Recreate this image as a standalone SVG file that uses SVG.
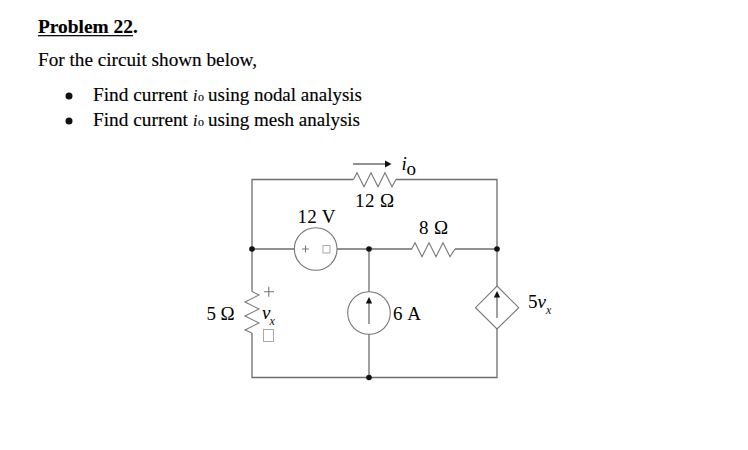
<svg xmlns="http://www.w3.org/2000/svg" width="748" height="450" viewBox="0 0 748 450">
<style>
.w{fill:none;stroke:#6e6e6e;stroke-width:1.3}
.t{fill:none;stroke:#777;stroke-width:1.1}
.h{font-family:"Liberation Serif",serif;font-size:19px;fill:#000;stroke:#000;stroke-width:.15}
.c{font-family:"Liberation Serif",serif;font-size:19px;fill:#000}
.i{font-style:italic}
.d{fill:#111}
.a{fill:#111;stroke:none}
</style>
<rect width="748" height="450" fill="#fff"/>
<g id="heading">
<text class="h" x="38" y="32.500" font-weight="bold" textLength="95" lengthAdjust="spacingAndGlyphs">Problem 22</text>
<text class="h" x="133" y="32.500" font-weight="bold">.</text>
<rect x="38" y="35" width="95" height="1.300" fill="#111"/>
<text class="h" x="38" y="66" textLength="219" lengthAdjust="spacingAndGlyphs">For the circuit shown below,</text>
<circle class="d" cx="69" cy="96" r="3.500"/>
<circle class="d" cx="69" cy="121" r="3.500"/>
<text class="h" y="101"><tspan x="93" textLength="95" lengthAdjust="spacingAndGlyphs">Find current</tspan><tspan x="193" class="i" font-size="16">i</tspan><tspan x="198" font-size="12">o</tspan><tspan x="208" textLength="154" lengthAdjust="spacingAndGlyphs">using nodal analysis</tspan></text>
<text class="h" y="126"><tspan x="93" textLength="95" lengthAdjust="spacingAndGlyphs">Find current</tspan><tspan x="193" class="i" font-size="16">i</tspan><tspan x="198" font-size="12">o</tspan><tspan x="208" textLength="152" lengthAdjust="spacingAndGlyphs">using mesh analysis</tspan></text>
</g>
<g id="connectors">
<path class="w" d="M353.500 179.500H252V291.500M252 333V377.500H497V329M396 179.500H497V286M252 249H294.500M337 249H412M455 249H497M369 249V292M369 334V377.500"/>
</g>
<g id="resistor-12">
<path class="t" d="M353.500 179.500L357 172.700L364 186.700L371 172.700L378 186.700L385 172.700L392 186.700L396 179.500"/>
<text class="c" x="355" y="206.500" textLength="39">12 Ω</text>
</g>
<g id="current-label">
<path class="w" d="M353 164H386"/>
<path class="a" d="M391.500 164L385 160.500V167.500Z"/>
<text class="c i" x="401.500" y="170">i</text>
<text class="c" x="406.500" y="175" font-size="10.500">o</text>
</g>
<g id="voltage-source">
<circle class="t" cx="315.700" cy="249" r="21.300"/>
<path class="t" d="M302 249H309M305.500 245.500V252.500"/>
<rect x="323" y="245.500" width="7" height="7.500" fill="none" stroke="#aaa" stroke-width="1"/>
<text class="c" x="297.500" y="223" textLength="38">12 V</text>
</g>
<g id="resistor-8">
<path class="t" d="M411.700 249L415 242.700L422 256.700L429 242.700L436 256.700L443 242.700L450 256.700L455 249"/>
<text class="c" x="419" y="234" textLength="29">8 Ω</text>
</g>
<g id="resistor-5">
<path class="t" d="M252 291.500L259 295L245 302L259 309L245 316L259 323L245 330L252 333"/>
<text class="c" x="206.500" y="320" textLength="28">5 Ω</text>
<path class="t" d="M264 291.700H274M268.800 286.700V296.700"/>
<rect x="263.500" y="329.500" width="10" height="12" fill="none" stroke="#aaa" stroke-width="1"/>
<text class="c i" x="262" y="319">v</text>
<text class="i" x="269.500" y="324.500" font-family="Liberation Serif,serif" font-size="12" fill="#111">x</text>
</g>
<g id="current-source">
<circle class="t" cx="369" cy="313" r="21.300"/>
<path class="w" d="M369 324V301"/>
<path class="a" d="M369 297L365.800 303.500H372.200Z"/>
<text class="c" x="393" y="320" textLength="28">6 A</text>
</g>
<g id="dependent-source">
<path class="t" d="M497 286L518.700 307.700L497 329L475.500 307.700Z"/>
<path class="w" d="M497 318V295"/>
<path class="a" d="M497 291L493.800 297.500H500.200Z"/>
<text class="c" x="528" y="308">5<tspan class="i">v</tspan></text>
<text class="i" x="546" y="313.500" font-family="Liberation Serif,serif" font-size="12" fill="#111">x</text>
</g>
<g id="junctions">
<circle class="d" cx="252" cy="249" r="2.800"/>
<circle class="d" cx="369" cy="249" r="2.800"/>
<circle class="d" cx="497" cy="249" r="2.800"/>
<circle class="d" cx="369" cy="377.500" r="2.800"/>
</g>
</svg>
